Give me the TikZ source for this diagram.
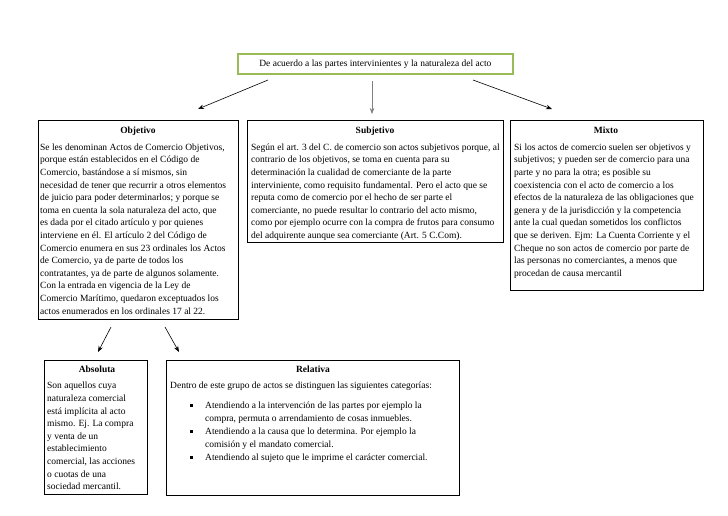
\documentclass[tikz,border=0pt]{standalone}
\usepackage{fontspec}
\setmainfont{Liberation Serif}
\usetikzlibrary{arrows.meta}
\begin{document}
\begin{tikzpicture}[x=1pt,y=-1pt,
  box/.style={draw=black, line width=0.9pt, anchor=north west, inner sep=0pt},
  ttl/.style={font=\fontsize{9.5}{12.6}\selectfont\bfseries, inner sep=0pt, anchor=base},
  body/.style={font=\fontsize{9.5}{12.6}\selectfont, align=left, inner sep=0pt, anchor=north west},
  lst/.style={font=\fontsize{9.5}{13}\selectfont, align=left, inner sep=0pt, anchor=north west},
  arr/.style={-{Stealth[length=6pt,width=4.5pt]}, line width=0.6pt}]
\useasboundingbox (0,0) rectangle (728,515);
\fill[white] (0,0) rectangle (728,515);

% top box
\node[draw={rgb,255:red,155;green,187;blue,89}, line width=1.8pt, anchor=north west,
      minimum width=275pt, minimum height=20pt, inner sep=0pt] (top) at (237,53) {};
\node[font=\fontsize{9.5}{12}\selectfont, inner sep=0pt] (toptxt) at (top.center) {De acuerdo a las partes intervinientes y la naturaleza del acto};

% Objetivo
\node[box, minimum width=200pt, minimum height=199pt] (objbox) at (38,120) {};
\node[ttl] (objttl) at (138,133.5) {Objetivo};
\node[body] (objtxt) at (40,143.5) {Se les denominan Actos de Comercio Objetivos,\\
porque están establecidos en el Código de\\
Comercio, bastándose a sí mismos, sin\\
necesidad de tener que recurrir a otros elementos\\
de juicio para poder determinarlos; y porque se\\
toma en cuenta la sola naturaleza del acto, que\\
es dada por el citado artículo y por quienes\\
interviene en él. El artículo 2 del Código de\\
Comercio enumera en sus 23 ordinales los Actos\\
de Comercio, ya de parte de todos los\\
contratantes, ya de parte de algunos solamente.\\
Con la entrada en vigencia de la Ley de\\
Comercio Marítimo, quedaron exceptuados los\\
actos enumerados en los ordinales 17 al 22.};

% Subjetivo
\node[box, minimum width=256pt, minimum height=122pt] (subbox) at (247,120) {};
\node[ttl] (subttl) at (375,133.5) {Subjetivo};
\node[body] (subtxt) at (251,143.5) {Según el art. 3 del C. de comercio son actos subjetivos porque, al\\
contrario de los objetivos, se toma en cuenta para su\\
determinación la cualidad de comerciante de la parte\\
interviniente, como requisito fundamental. Pero el acto que se\\
reputa como de comercio por el hecho de ser parte el\\
comerciante, no puede resultar lo contrario del acto mismo,\\
como por ejemplo ocurre con la compra de frutos para consumo\\
del adquirente aunque sea comerciante (Art. 5 C.Com).};

% Mixto
\node[box, minimum width=193pt, minimum height=170pt] (mixbox) at (510,120) {};
\node[ttl] (mixttl) at (606,133.5) {Mixto};
\node[body] (mixtxt) at (514,143.5) {Si los actos de comercio suelen ser objetivos y\\
subjetivos; y pueden ser de comercio para una\\
parte y no para la otra; es posible su\\
coexistencia con el acto de comercio a los\\
efectos de la naturaleza de las obligaciones que\\
genera y de la jurisdicción y la competencia\\
ante la cual quedan sometidos los conflictos\\
que se deriven. Ejm: La Cuenta Corriente y el\\
Cheque no son actos de comercio por parte de\\
las personas no comerciantes, a menos que\\
procedan de causa mercantil};

% Absoluta
\node[box, minimum width=103pt, minimum height=134pt] (absbox) at (44,360) {};
\node[ttl] (absttl) at (97,372.5) {Absoluta};
\node[body] (abstxt) at (47,382) {Son aquellos cuya\\
naturaleza comercial\\
está implícita al acto\\
mismo. Ej. La compra\\
y venta de un\\
establecimiento\\
comercial, las acciones\\
o cuotas de una\\
sociedad mercantil.};

% Relativa
\node[box, minimum width=293pt, minimum height=135pt] (relbox) at (166,360) {};
\node[ttl] (relttl) at (313,372.5) {Relativa};
\node[body] (reltxt) at (170,382) {Dentro de este grupo de actos se distinguen las siguientes categorías:};
\node[lst] (rellist) at (190,401.5) {%
\makebox[15pt][l]{\raisebox{1.8pt}{\rule{2.6pt}{2.6pt}}}Atendiendo a la intervención de las partes por ejemplo la\\
\hspace*{15pt}compra, permuta o arrendamiento de cosas inmuebles.\\
\makebox[15pt][l]{\raisebox{1.8pt}{\rule{2.6pt}{2.6pt}}}Atendiendo a la causa que lo determina. Por ejemplo la\\
\hspace*{15pt}comisión y el mandato comercial.\\
\makebox[15pt][l]{\raisebox{1.8pt}{\rule{2.6pt}{2.6pt}}}Atendiendo al sujeto que le imprime el carácter comercial.};

% arrows
\coordinate (a1s) at (268,80);
\coordinate (a1e) at (198,109);
\coordinate (a2s) at (372,81);
\coordinate (a2e) at (372,114);
\coordinate (a3s) at (473,80);
\coordinate (a3e) at (552,109);
\coordinate (a4s) at (111,327);
\coordinate (a4e) at (98,352);
\coordinate (a5s) at (165,327);
\coordinate (a5e) at (179,352);
\draw[arr] (a1s) -- (a1e);
\draw[arr, draw=gray, fill=gray] (a2s) -- (a2e);
\draw[arr] (a3s) -- (a3e);
\draw[arr] (a4s) -- (a4e);
\draw[arr] (a5s) -- (a5e);
\end{tikzpicture}
\end{document}
